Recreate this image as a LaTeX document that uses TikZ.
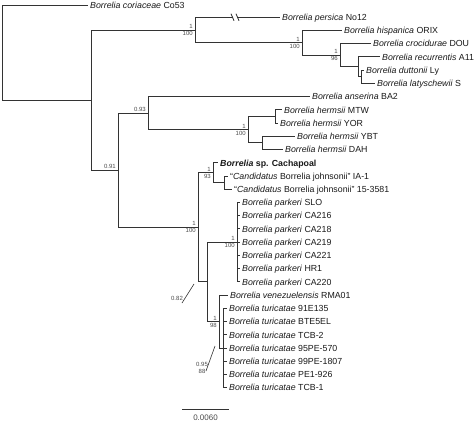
\documentclass[tikz,border=0pt]{standalone}
\usepackage{fontspec}
\setmainfont{Liberation Sans}
\begin{document}
\begin{tikzpicture}[x=1pt,y=-1pt,
  br/.style={draw=black!80,line width=0.85pt},
  lead/.style={draw=black!80,line width=0.6pt},
  tip/.style={anchor=west,font=\fontsize{8.8}{10}\selectfont,text=black!90,inner xsep=2pt,inner ysep=0pt,text height=6.4pt,text depth=0pt},
  supu/.style={anchor=south east,font=\fontsize{6}{6.5}\selectfont,text=black!70,inner sep=0.6pt},
  supd/.style={anchor=north east,font=\fontsize{6}{6.5}\selectfont,text=black!70,inner sep=0.6pt},
  supc/.style={font=\fontsize{6}{6.5}\selectfont,text=black!70,inner sep=0.6pt}]
\useasboundingbox[fill=white] (0,0) rectangle (474,421);
% internal nodes
\coordinate (root) at (2,52.5);
\coordinate (A) at (91,100.1);
\coordinate (B) at (195,30.05);
\coordinate (C) at (302,42.9);
\coordinate (D) at (340,55.3);
\coordinate (E) at (358,66.85);
\coordinate (F) at (361,76.8);
\coordinate (H) at (118,170.2);
\coordinate (G) at (148,113.15);
\coordinate (I) at (248,129.7);
\coordinate (J) at (275,116.45);
\coordinate (K) at (262,142.9);
\coordinate (N) at (198,227.3);
\coordinate (L) at (213,172.7);
\coordinate (M) at (224,182.6);
\coordinate (P) at (207,281.85);
\coordinate (Q) at (237,242.15);
\coordinate (R) at (219,321.55);
\coordinate (S) at (223,348.0);
\coordinate (brk1) at (233,17.2);
\coordinate (brk2) at (237,17.2);
% tips
\node[tip] (t0) at (88,5) {\textit{Borrelia coriaceae} Co53};
\node[tip] (t1) at (280,17.2) {\textit{Borrelia persica} No12};
\node[tip] (t2) at (342,30.5) {\textit{Borrelia hispanica} ORIX};
\node[tip] (t3) at (371,43.7) {\textit{Borrelia crocidurae} DOU};
\node[tip] (t4) at (380,56.9) {\textit{Borrelia recurrentis} A11};
\node[tip] (t5) at (364,70.2) {\textit{Borrelia duttonii} Ly};
\node[tip] (t6) at (375,83.4) {\textit{Borrelia latyschewii} S};
\node[tip] (t7) at (310,96.6) {\textit{Borrelia anserina} BA2};
\node[tip] (t8) at (282,109.8) {\textit{Borrelia hermsii} MTW};
\node[tip] (t9) at (278,123.1) {\textit{Borrelia hermsii} YOR};
\node[tip] (t10) at (295,136.3) {\textit{Borrelia hermsii} YBT};
\node[tip] (t11) at (283,149.5) {\textit{Borrelia hermsii} DAH};
\node[tip] (t12) at (218,162.8) {\textbf{\textit{Borrelia} sp. Cachapoal}};
\node[tip] (t13) at (228,176.0) {“\textit{Candidatus} Borrelia johnsonii” IA-1};
\node[tip] (t14) at (232,189.2) {“\textit{Candidatus} Borrelia johnsonii” 15-3581};
\node[tip] (t15) at (240,202.5) {\textit{Borrelia parkeri} SLO};
\node[tip] (t16) at (240,215.7) {\textit{Borrelia parkeri} CA216};
\node[tip] (t17) at (240,228.9) {\textit{Borrelia parkeri} CA218};
\node[tip] (t18) at (240,242.1) {\textit{Borrelia parkeri} CA219};
\node[tip] (t19) at (240,255.4) {\textit{Borrelia parkeri} CA221};
\node[tip] (t20) at (240,268.6) {\textit{Borrelia parkeri} HR1};
\node[tip] (t21) at (240,281.8) {\textit{Borrelia parkeri} CA220};
\node[tip] (t22) at (228,295.1) {\textit{Borrelia venezuelensis} RMA01};
\node[tip] (t23) at (227,308.3) {\textit{Borrelia turicatae} 91E135};
\node[tip] (t24) at (227,321.5) {\textit{Borrelia turicatae} BTE5EL};
\node[tip] (t25) at (227,334.8) {\textit{Borrelia turicatae} TCB-2};
\node[tip] (t26) at (227,348.0) {\textit{Borrelia turicatae} 95PE-570};
\node[tip] (t27) at (227,361.2) {\textit{Borrelia turicatae} 99PE-1807};
\node[tip] (t28) at (227,374.4) {\textit{Borrelia turicatae} PE1-926};
\node[tip] (t29) at (227,387.7) {\textit{Borrelia turicatae} TCB-1};
% branches
\draw[br] (root) |- (t0.west);
\draw[br] (root) |- (A);
\draw[br] (A) |- (B);
\draw[br] (A) |- (H);
\draw[br] (B) |- (brk1);
\draw[br] (brk2) -- (t1.west);
\draw[br] ([xshift=-2pt,yshift=3.5pt]brk1) -- ([xshift=1pt,yshift=-3.5pt]brk1);
\draw[br] ([xshift=-1pt,yshift=3.5pt]brk2) -- ([xshift=2pt,yshift=-3.5pt]brk2);
\draw[br] (B) |- (C);
\draw[br] (C) |- (t2.west);
\draw[br] (C) |- (D);
\draw[br] (D) |- (t3.west);
\draw[br] (D) |- (E);
\draw[br] (E) |- (t4.west);
\draw[br] (E) |- (F);
\draw[br] (F) |- (t5.west);
\draw[br] (F) |- (t6.west);
\draw[br] (H) |- (G);
\draw[br] (H) |- (N);
\draw[br] (G) |- (t7.west);
\draw[br] (G) |- (I);
\draw[br] (I) |- (J);
\draw[br] (I) |- (K);
\draw[br] (J) |- (t8.west);
\draw[br] (J) |- (t9.west);
\draw[br] (K) |- (t10.west);
\draw[br] (K) |- (t11.west);
\draw[br] (N) |- (L);
\draw[br] (N) |- (P);
\draw[br] (L) |- (t12.west);
\draw[br] (L) |- (M);
\draw[br] (M) |- (t13.west);
\draw[br] (M) |- (t14.west);
\draw[br] (P) |- (Q);
\draw[br] (P) |- (R);
\foreach \i in {15,...,21} {\draw[br] (Q) |- (t\i.west);}
\draw[br] (R) |- (t22.west);
\draw[br] (R) |- (S);
\foreach \i in {23,...,29} {\draw[br] (S) |- (t\i.west);}
% supports
\node[supu] (sB1) at (193.5,29.4) {1};
\node[supd] (sB2) at (193.5,30.7) {100};
\node[supu] (sC1) at (300.5,42.3) {1};
\node[supd] (sC2) at (300.5,43.6) {100};
\node[supu] (sD1) at (338.5,54.7) {1};
\node[supd] (sD2) at (338.5,56.0) {96};
\node[supu] (sG1) at (146.5,112.5) {0.93};
\node[supu] (sH1) at (116.5,169.6) {0.91};
\node[supu] (sI1) at (246.5,129.1) {1};
\node[supd] (sI2) at (246.5,130.4) {100};
\node[supu] (sN1) at (196.5,226.7) {1};
\node[supd] (sN2) at (196.5,228.0) {100};
\node[supu] (sL1) at (211.5,172.1) {1};
\node[supd] (sL2) at (211.5,173.4) {93};
\node[supu] (sQ1) at (235.5,241.5) {1};
\node[supd] (sQ2) at (235.5,242.8) {100};
\node[supu] (sR1) at (217.5,320.9) {1};
\node[supd] (sR2) at (217.5,322.2) {98};
\node[supc] (sP1) at (177,298) {0.82};
\coordinate (lp) at (194,284);
\draw[lead] ([xshift=5pt,yshift=-5pt]sP1.center) -- (lp);
\node[supc] (sS1) at (202,364) {0.95};
\node[supc] (sS2) at (202,371.5) {88};
\coordinate (ls) at (215,346);
\draw[lead] ([xshift=4pt,yshift=-7pt]sS1.center) -- (ls);
% scale bar
\coordinate (sb1) at (182,409.5);
\coordinate (sb2) at (229,409.5);
\draw[br] (sb1) -- (sb2);
\node[supc,font=\fontsize{8}{9}\selectfont] (sbl) at (205.5,418) {0.0060};
\end{tikzpicture}
\end{document}
